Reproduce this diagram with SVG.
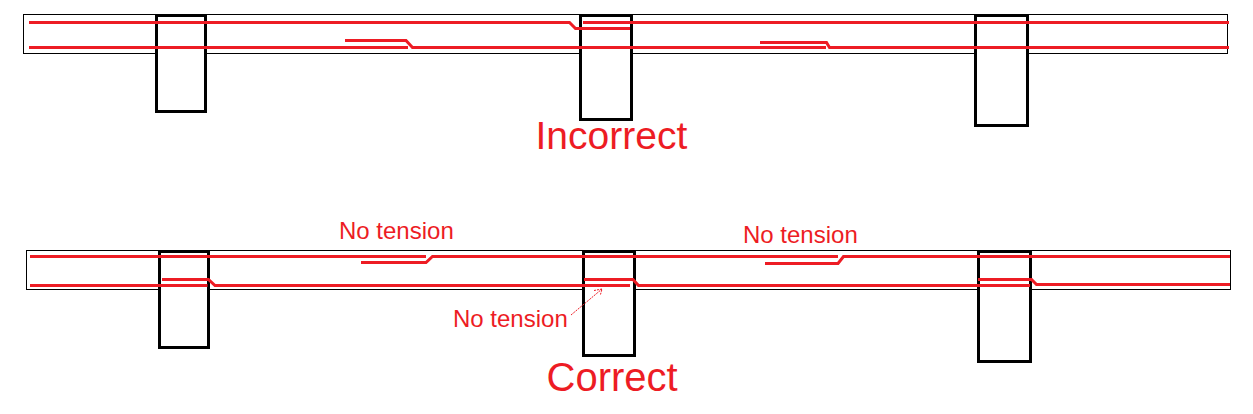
<svg xmlns="http://www.w3.org/2000/svg" width="1253" height="414" viewBox="0 0 1253 414">
<style>
.beam{fill:#fff;stroke:#000;stroke-width:1}
.col{fill:#fff;stroke:#000;stroke-width:3}
.bar{fill:none;stroke:#ed1c24;stroke-width:3}
.thin{fill:none;stroke:#ed1c24;stroke-width:1}
text{font-family:"Liberation Sans",Arial,sans-serif;fill:#ed1c24}
.big{font-size:39px}
.big2{font-size:40px}
.small{font-size:24px}
</style>
<rect width="1253" height="414" fill="#fff"/>
<g id="beam-top"><rect class="beam" x="23.5" y="14.5" width="1204" height="39"/></g>
<g id="beam-bottom"><rect class="beam" x="26.5" y="250.5" width="1204" height="39"/></g>
<g id="col-top-1"><rect class="col" x="156.5" y="15.5" width="49" height="96"/></g>
<g id="col-top-2"><rect class="col" x="580.5" y="15.5" width="51" height="104"/></g>
<g id="col-top-3"><rect class="col" x="975.5" y="15.5" width="52" height="110"/></g>
<g id="col-bottom-1"><rect class="col" x="159.5" y="251.5" width="49" height="96"/></g>
<g id="col-bottom-2"><rect class="col" x="583.5" y="251.5" width="51" height="104"/></g>
<g id="col-bottom-3"><rect class="col" x="978.5" y="251.5" width="52" height="110"/></g>
<g id="connectors">
<path class="bar" d="M29 22.5H569.5L575.5 28.5H630"/>
<path class="bar" d="M583 22.5H1229"/>
<path class="bar" d="M29 47.5H408"/>
<path class="bar" d="M345 40.5H406L412.5 47.5H826"/>
<path class="bar" d="M760 42.5H826.5L829.5 47.5H1229"/>
<path class="bar" d="M30 256.5H426"/>
<path class="bar" d="M361 262.5H426L432.5 256.5H838"/>
<path class="bar" d="M765 263.5H838L843.5 256.5H1230"/>
<path class="bar" d="M30 285.5H207.5"/>
<path class="bar" d="M162 279.5H208.5L215 285.5H630"/>
<path class="bar" d="M584 279.5H633L638.5 285.5H1030"/>
<path class="bar" d="M978 279.5H1031.5L1036.5 284.5H1230"/>
<path class="thin" d="M571 315L602 289M594 290.5L602 289L600.5 294.5" stroke-dasharray="2 1"/>
</g>
<text class="big" x="535.5" y="149">Incorrect</text>
<text class="big2" x="546.5" y="391">Correct</text>
<text class="small" x="339" y="239">No tension</text>
<text class="small" x="743" y="243">No tension</text>
<text class="small" x="453" y="327">No tension</text>
</svg>
